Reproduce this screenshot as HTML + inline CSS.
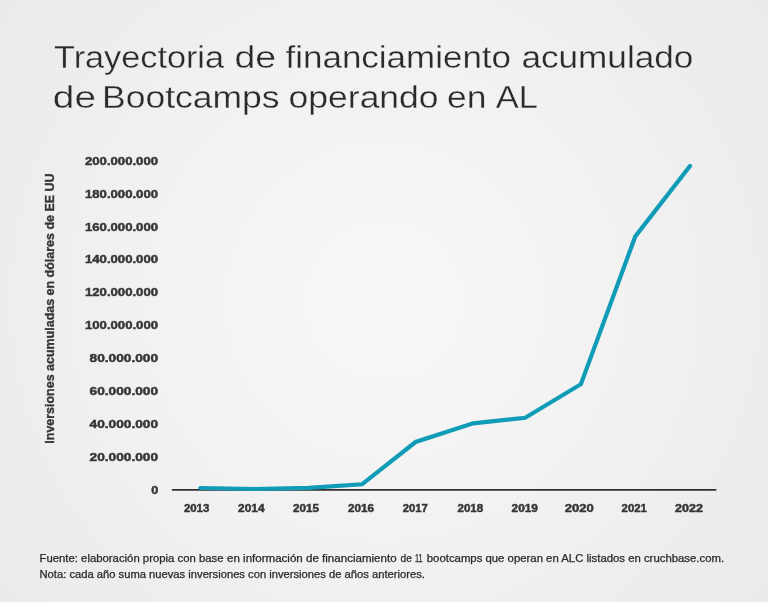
<!DOCTYPE html>
<html><head><meta charset="utf-8">
<style>
html,body{margin:0;padding:0;width:768px;height:602px;overflow:hidden;background:#ececec;}
svg{display:block;will-change:transform;}
text{font-family:"Liberation Sans",sans-serif;}
.t{font-size:30.6px;fill:#2a2a2a;stroke:#f1f1f1;stroke-width:0.3px;}
.y{font-size:10.5px;font-weight:bold;fill:#383535;stroke:#383535;stroke-width:0.45px;}
.f{font-size:10px;fill:#2a2a2a;stroke:#2a2a2a;stroke-width:0.25px;}
.x{font-size:10px;font-weight:bold;fill:#383535;stroke:#383535;stroke-width:0.45px;}
.r{font-size:12.5px;font-weight:bold;fill:#383535;stroke:#383535;stroke-width:0.35px;}
</style></head><body>
<svg width="768" height="602" viewBox="0 0 768 602">
<defs>
<radialGradient id="bg" gradientUnits="userSpaceOnUse" cx="384" cy="301" r="488">
<stop offset="0" stop-color="#f8f8f8"/><stop offset="0.62" stop-color="#f0f0f0"/><stop offset="0.79" stop-color="#ededed"/><stop offset="1" stop-color="#ebebeb"/>
</radialGradient>
</defs>
<rect width="768" height="602" fill="url(#bg)"/>
<g class="t">
<text x="54" y="67.8" textLength="170" lengthAdjust="spacingAndGlyphs">Trayectoria</text>
<text x="234.5" y="67.8" textLength="41.7" lengthAdjust="spacingAndGlyphs">de</text>
<text x="285.5" y="67.8" textLength="225.5" lengthAdjust="spacingAndGlyphs">financiamiento</text>
<text x="521.4" y="67.8" textLength="172" lengthAdjust="spacingAndGlyphs">acumulado</text>
<text x="52.8" y="108.1" textLength="43.2" lengthAdjust="spacingAndGlyphs">de</text>
<text x="102" y="108.1" textLength="177.5" lengthAdjust="spacingAndGlyphs">Bootcamps</text>
<text x="288.6" y="108.1" textLength="150" lengthAdjust="spacingAndGlyphs">operando</text>
<text x="447" y="108.1" textLength="39.4" lengthAdjust="spacingAndGlyphs">en</text>
<text x="495.8" y="108.1" textLength="42.2" lengthAdjust="spacingAndGlyphs">AL</text>
</g>
<g class="y">
<text x="85.0" y="164.75" textLength="73.0" lengthAdjust="spacingAndGlyphs">200.000.000</text>
<text x="85.0" y="197.65" textLength="73.0" lengthAdjust="spacingAndGlyphs">180.000.000</text>
<text x="85.0" y="230.55" textLength="73.0" lengthAdjust="spacingAndGlyphs">160.000.000</text>
<text x="85.0" y="263.45" textLength="73.0" lengthAdjust="spacingAndGlyphs">140.000.000</text>
<text x="85.0" y="296.35" textLength="73.0" lengthAdjust="spacingAndGlyphs">120.000.000</text>
<text x="85.0" y="329.25" textLength="73.0" lengthAdjust="spacingAndGlyphs">100.000.000</text>
<text x="89.6" y="362.15" textLength="68.4" lengthAdjust="spacingAndGlyphs">80.000.000</text>
<text x="89.6" y="395.05" textLength="68.4" lengthAdjust="spacingAndGlyphs">60.000.000</text>
<text x="89.6" y="427.95" textLength="68.4" lengthAdjust="spacingAndGlyphs">40.000.000</text>
<text x="89.6" y="460.85" textLength="68.4" lengthAdjust="spacingAndGlyphs">20.000.000</text>
<text x="151.3" y="493.75" textLength="7.0" lengthAdjust="spacingAndGlyphs">0</text>
</g>
<g class="x">
<text x="183.9" y="511.7" textLength="25.4" lengthAdjust="spacingAndGlyphs">2013</text>
<text x="238.1" y="511.7" textLength="26.4" lengthAdjust="spacingAndGlyphs">2014</text>
<text x="293.1" y="511.7" textLength="25.8" lengthAdjust="spacingAndGlyphs">2015</text>
<text x="347.9" y="511.7" textLength="26.0" lengthAdjust="spacingAndGlyphs">2016</text>
<text x="402.7" y="511.7" textLength="25.0" lengthAdjust="spacingAndGlyphs">2017</text>
<text x="457.5" y="511.7" textLength="25.6" lengthAdjust="spacingAndGlyphs">2018</text>
<text x="511.6" y="511.7" textLength="26.3" lengthAdjust="spacingAndGlyphs">2019</text>
<text x="564.8" y="511.7" textLength="29.0" lengthAdjust="spacingAndGlyphs">2020</text>
<text x="621.6" y="511.7" textLength="25.3" lengthAdjust="spacingAndGlyphs">2021</text>
<text x="675.1" y="511.7" textLength="27.8" lengthAdjust="spacingAndGlyphs">2022</text>
</g>
<text class="r" transform="translate(53.5,443.7) rotate(-90)" textLength="270.2" lengthAdjust="spacingAndGlyphs">Inversiones acumuladas en dólares de EE UU</text>
<g class="f">
<text x="39.5" y="562.2" textLength="184" lengthAdjust="spacingAndGlyphs">Fuente: elaboración propia con base</text>
<text x="227" y="562.2" textLength="169.6" lengthAdjust="spacingAndGlyphs">en información de financiamiento</text>
<text x="400.6" y="562.2" textLength="11.3" lengthAdjust="spacingAndGlyphs">de</text>
<text x="415" y="562.2" textLength="7.6" lengthAdjust="spacingAndGlyphs">11</text>
<text x="426.8" y="562.2" textLength="297.3" lengthAdjust="spacingAndGlyphs">bootcamps que operan en ALC listados en cruchbase.com.</text>
<text x="39.5" y="577.5" textLength="385.4" lengthAdjust="spacingAndGlyphs">Nota: cada año suma nuevas inversiones con inversiones de años anteriores.</text>
</g>
<line x1="172.6" y1="489.85" x2="715.6" y2="489.85" stroke="#332f2f" stroke-width="1.9" stroke-linecap="round"/>
<polyline fill="none" stroke="#109bb7" stroke-width="4.2" stroke-linecap="round" stroke-linejoin="miter"
 points="200.3,488 254.5,489 308.5,487.8 362,484.3 415.6,442 473.2,423.3 525.2,417.8 580.9,384.2 635.3,236.4 690,166"/>
</svg>
</body></html>
